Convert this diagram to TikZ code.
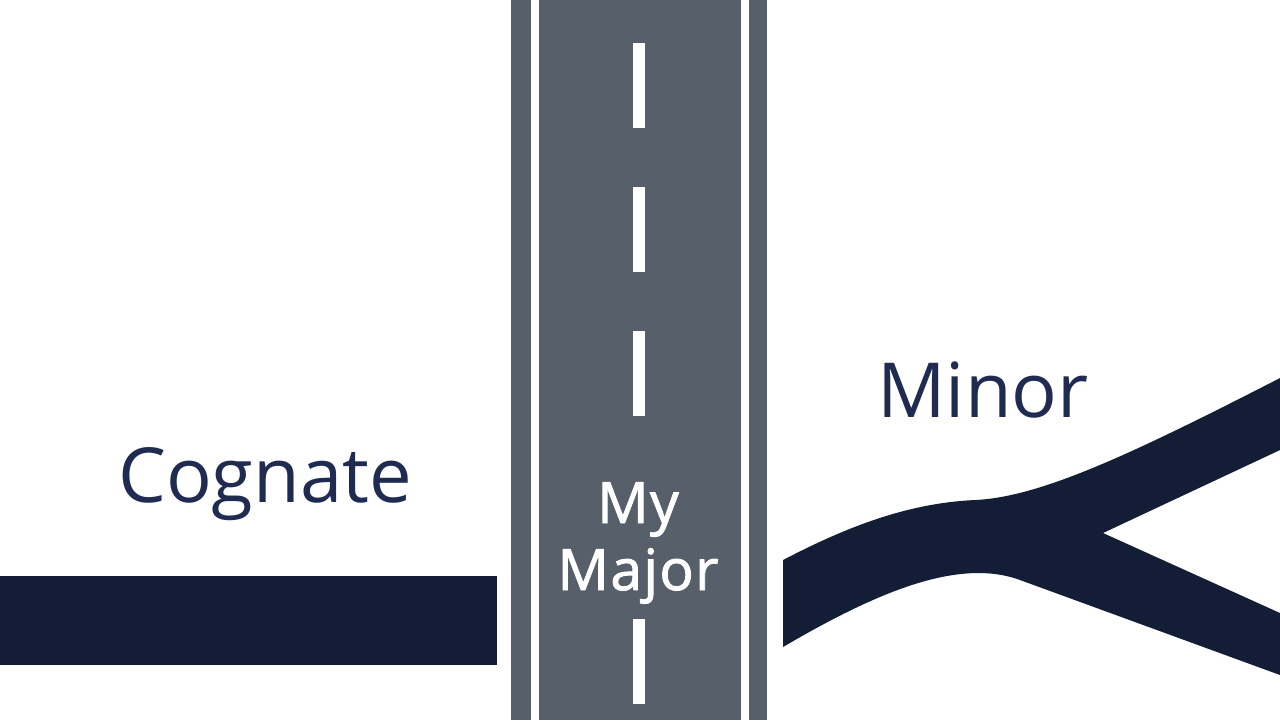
\documentclass[tikz,border=0pt]{standalone}
\usepackage{fontspec}
\setmainfont{Open Sans}
\newfontfamily\majorfont{Open Sans}[FakeBold=1.6,LetterSpace=2.5]
\definecolor{roadgray}{HTML}{575F6B}
\definecolor{pathnavy}{HTML}{131D36}
\definecolor{labelnavy}{HTML}{1F2B50}

\begin{document}
\begin{tikzpicture}[x=0.01cm,y=-0.01cm]
% Canvas
\fill[white] (0,0) rectangle (1280,720);
\useasboundingbox (0,0) rectangle (1280,720);

% Main road
\fill[roadgray] (511,0) rectangle (767,720);
\fill[white] (531,0) rectangle (539,720);
\fill[white] (741,0) rectangle (749,720);

% Centre dashes
\foreach \y in {43,187,331,619}
  \fill[white] (633,\y) rectangle (645,\y+85);

% Straight side path
\fill[pathnavy] (0,576) rectangle (497,665);

% Forking side path
\fill[pathnavy] (783,560) .. controls (850,525) and (910,503) .. (975,500)
  .. controls (1040,497) and (1130,455) .. (1280,378)
  -- (1280,450) -- (1103,533) -- (1280,613) -- (1280,675)
  -- (1020,580) .. controls (960,558) and (880,590) .. (783,647) -- cycle;

% Labels
\node[anchor=base, text=labelnavy, font=\fontsize{21.6}{26}\selectfont] (cognate) at (265,502) {Cognate};
\node[anchor=base, text=labelnavy, font=\fontsize{21.6}{26}\selectfont] (minor) at (983,417) {Minor};
\node[anchor=base, text=white, font=\majorfont\fontsize{16.2}{19}\selectfont] (my) at (638,523) {My};
\node[anchor=base, text=white, font=\majorfont\fontsize{16.2}{19}\selectfont] (major) at (638,590) {Major};
\end{tikzpicture}
\end{document}
